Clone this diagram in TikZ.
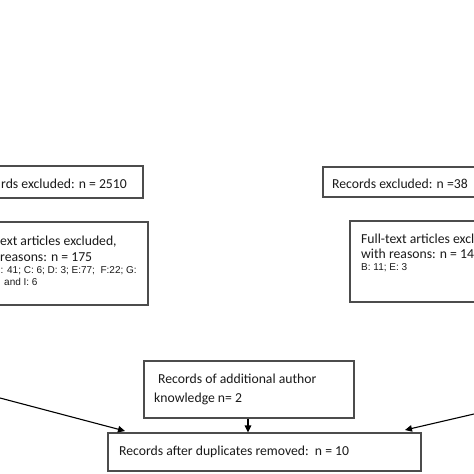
\documentclass[tikz,border=0pt]{standalone}
\usepackage{fontspec}
\setmainfont{Carlito}
\newfontfamily\smallsans{Liberation Sans}
\usetikzlibrary{arrows.meta}
\begin{document}
\begin{tikzpicture}[x=1pt,y=-1pt,
  box/.style={draw=black!70,line width=1.1pt,rectangle,inner sep=0pt},
  txt/.style={anchor=base west,inner sep=0pt,font=\fontsize{13.7}{16.7}\selectfont,text=black!90},
  stxt/.style={anchor=base west,inner sep=0pt,font=\smallsans\fontsize{10}{11.7}\selectfont,text=black!90},
  arr/.style={draw=black,line width=1.1pt,-{Triangle[length=7pt,width=6.5pt]}}]
\useasboundingbox (0,0) rectangle (474,474);
\clip (0,0) rectangle (474,474);
% boxes
\node[box,minimum width=153pt,minimum height=32pt] (b1) at (66.5,182) {};
\node[box,minimum width=158pt,minimum height=83pt] (b2) at (69,263.5) {};
\node[box,minimum width=161pt,minimum height=30pt] (b3) at (403.5,182) {};
\node[box,minimum width=134pt,minimum height=81pt] (b4) at (417,261.5) {};
\node[box,minimum width=210pt,minimum height=57pt] (b5) at (249,389.5) {};
\node[box,minimum width=313pt,minimum height=38pt] (b6) at (264.5,452) {};
% texts
\node[txt] (t1) at (1,188.3) {rds excluded: n = 2510};
\node[txt] (t2a) at (0,245) {ext articles excluded,};
\node[txt] (t2b) at (0,261) {reasons: n = 175};
\node[stxt] (t2c) at (0.5,273.3) {: 41; C: 6; D: 3; E:77;\ \ F:22; G:};
\node[stxt] (t2d) at (4,285.7) {and I: 6};
\node[txt] (t3) at (332,188.3) {Records excluded: n =38};
\node[txt] (t4a) at (361,243.3) {Full-text articles excl};
\node[txt] (t4b) at (361,258.3) {with reasons: n = 14};
\node[stxt] (t4c) at (361,270) {B: 11; E: 3};
\node[txt] (t5a) at (158,383.3) {Records of additional author};
\node[txt] (t5b) at (154,402.7) {knowledge n= 2};
\node[txt] (t6) at (119,455) {Records after duplicates removed:\ \ n = 10};
% arrows
\coordinate (lstart) at (0,398);
\coordinate (lend) at (125,431);
\coordinate (rstart) at (474,414);
\coordinate (rend) at (405,430);
\draw[arr] (lstart) -- (lend);
\draw[arr] (rstart) -- (rend);
\draw[arr] (b5.south -| 248,0) -- (b6.north -| 248,0);
\end{tikzpicture}
\end{document}
